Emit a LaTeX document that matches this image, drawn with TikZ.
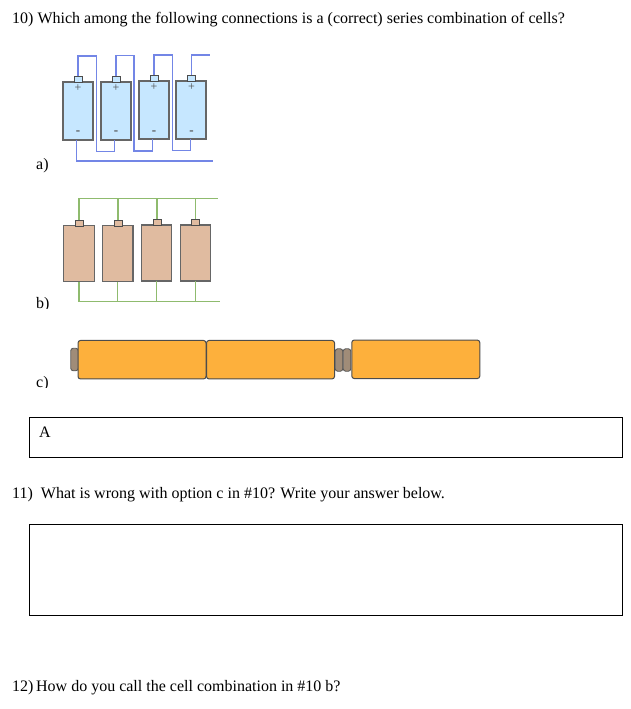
\documentclass[tikz,border=0pt]{standalone}
\usepackage{fontspec}
\setmainfont{Liberation Serif}
\usetikzlibrary{positioning}
\definecolor{cellblue}{HTML}{C6E7FF}
\definecolor{wireblue}{HTML}{7386E6}
\definecolor{celltan}{HTML}{E0BBA0}
\definecolor{wiregreen}{HTML}{8FBB6E}
\definecolor{cellorange}{HTML}{FDB03C}
\definecolor{capbrown}{HTML}{A08C78}
\tikzstyle{question} = [anchor=base west, inner sep=0pt, font=\fontsize{16}{19}\selectfont]
\tikzstyle{answerbox} = [rectangle, draw=black, line width=0.8pt, anchor=north west, inner sep=0pt]
\tikzstyle{bluecell} = [rectangle, draw=black!60, line width=1.2pt, fill=cellblue, minimum width=30pt, minimum height=58pt, inner sep=0pt, outer sep=0pt]
\tikzstyle{bluecap} = [rectangle, draw=black!70, line width=0.8pt, fill=cellblue, minimum width=8pt, minimum height=6pt, inner sep=0pt, outer sep=0pt]
\tikzstyle{sign} = [inner sep=0pt, text=black!70, font=\fontsize{12}{12}\selectfont]
\tikzstyle{minussign} = [inner sep=0pt, text=black!70, font=\fontsize{13}{13}\selectfont\bfseries]
\tikzstyle{tancell} = [rectangle, draw=black!60, line width=1.2pt, fill=celltan, minimum width=30.5pt, minimum height=56pt, inner sep=0pt, outer sep=0pt]
\tikzstyle{tancap} = [rectangle, draw=black!70, line width=0.8pt, fill=celltan, minimum width=8pt, minimum height=6pt, inner sep=0pt, outer sep=0pt]
\tikzstyle{longcell} = [rectangle, rounded corners=2.5pt, draw=black!70, line width=1pt, fill=cellorange, minimum width=128pt, minimum height=38.5pt, inner sep=0pt, outer sep=0pt]
\tikzstyle{stud} = [rectangle, rounded corners=2.5pt, draw=black!65, line width=0.9pt, fill=capbrown, minimum width=7.5pt, minimum height=22.5pt, inner sep=0pt, outer sep=0pt]
\tikzstyle{bluewire} = [draw=wireblue, line width=1.1pt]
\tikzstyle{greenwire} = [draw=wiregreen, line width=1.1pt]

\begin{document}
\begin{tikzpicture}[x=1pt,y=-1pt]
    \useasboundingbox (0,0) rectangle (630,709);

    \node (q10) [question] at (12,24) {10) Which among the following connections is a (correct) series combination of cells?};
    \node (labela) [question] at (36,169) {a)};
    \begin{scope}
        \clip (30,290) rectangle (60,308.7);
        \node (labelb) [question] at (36,308) {b)};
    \end{scope}
    \begin{scope}
        \clip (30,370) rectangle (60,387);
        \node (labelc) [question] at (36,387) {c)};
    \end{scope}

    % option a
    \node (cella1) [bluecell] at (78,111) {};
    \node (cella2) [bluecell] at (116,111) {};
    \node (cella3) [bluecell] at (154,110) {};
    \node (cella4) [bluecell] at (191,110) {};
    \node (capa1) [bluecap] at (78,79) {};
    \node (capa2) [bluecap] at (116,79) {};
    \node (capa3) [bluecap] at (154,78) {};
    \node (capa4) [bluecap] at (191.5,78) {};
    \node (plusa1) [sign] at (78,88.5) {+};
    \node (plusa2) [sign] at (116,88.5) {+};
    \node (plusa3) [sign] at (154,87.5) {+};
    \node (plusa4) [sign] at (191.5,87.5) {+};
    \node (minusa1) [minussign] at (78,133) {-};
    \node (minusa2) [minussign] at (116,133) {-};
    \node (minusa3) [minussign] at (154,133) {-};
    \node (minusa4) [minussign] at (191.5,133) {-};

    \coordinate (upa1) at (96.5,56);
    \coordinate (lowa1) at (96.5,151.5);
    \coordinate (upa2) at (134,55.5);
    \coordinate (lowa2) at (134,151);
    \coordinate (upa3) at (172.5,55);
    \coordinate (lowa3) at (172.5,150.5);
    \coordinate (enda4) at (210,55);
    \coordinate (enda1) at (213,161);

    \draw [bluewire] (capa1.north) |- (upa1) -- (lowa1) -| ([xshift=-1.3pt]cella2.south);
    \draw [bluewire] (capa2.north) |- (upa2) -- (lowa2) -| ([xshift=-1.5pt]cella3.south);
    \draw [bluewire] (capa3.north) |- (upa3) -- (lowa3) -| ([xshift=-0.5pt]cella4.south);
    \draw [bluewire] (capa4.north) |- (enda4);
    \draw [bluewire] ([xshift=-1.5pt]cella1.south) |- (enda1);

    % option b
    \node (cellb1) [tancell] at (79,253.7) {};
    \node (cellb2) [tancell] at (117.8,253.7) {};
    \node (cellb3) [tancell] at (156.6,253) {};
    \node (cellb4) [tancell] at (195.5,253) {};
    \node (capb1) [tancap] at (79,223) {};
    \node (capb2) [tancap] at (118,223) {};
    \node (capb3) [tancap] at (157,222) {};
    \node (capb4) [tancap] at (195.5,222) {};

    \coordinate (topb) at (218,198.7);
    \coordinate (botb) at (220,301.5);

    \draw [greenwire] (capb1.north) |- (topb);
    \draw [greenwire] (capb2.north) -- (capb2.north |- topb);
    \draw [greenwire] (capb3.north) -- (capb3.north |- topb);
    \draw [greenwire] (capb4.north) -- (capb4.north |- topb);
    \draw [greenwire] (cellb1.south) |- (botb);
    \draw [greenwire] (cellb2.south) -- (cellb2.south |- botb);
    \draw [greenwire] (cellb3.south) -- (cellb3.south |- botb);
    \draw [greenwire] (cellb4.south) -- (cellb4.south |- botb);

    % option c
    \node (studc1) [stud] at (74.5,359.5) {};
    \node (studc2) [stud] at (339,360) {};
    \node (studc3) [stud] at (347,360) {};
    \node (cellc1) [longcell] at (142,359.7) {};
    \node (cellc2) [longcell] at (270.5,359.7) {};
    \node (cellc3) [longcell] at (415.8,359.3) {};

    \node (box10) [answerbox, minimum width=593pt, minimum height=40pt] at (29,417) {};
    \node (answer10) [question] at (39,437) {A};

    \node (q11) [question] at (12,498) {11)\ \ What is wrong with option c in \#10? Write your answer below.};
    \node (box11) [answerbox, minimum width=593pt, minimum height=91pt] at (29,524) {};

    \node (q12) [question] at (12,691) {12)\,How do you call the cell combination in \#10 b?};
\end{tikzpicture}
\end{document}
